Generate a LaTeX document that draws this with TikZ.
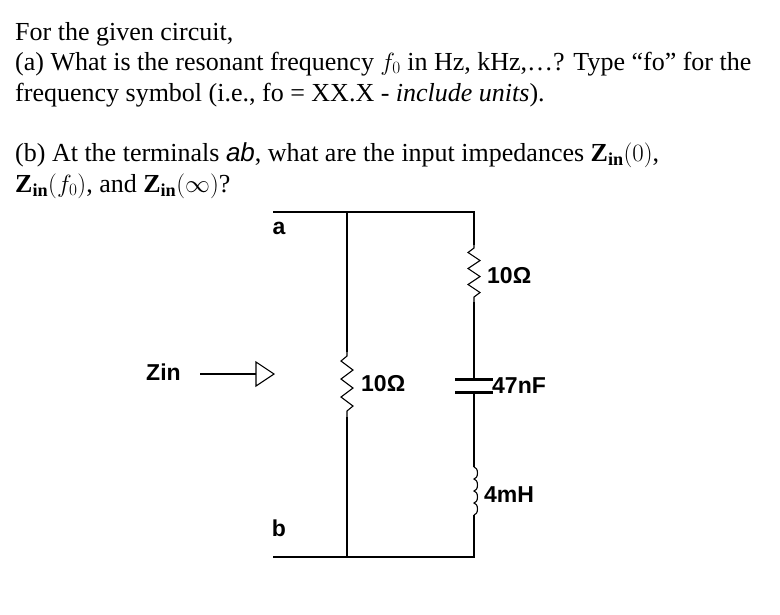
\documentclass[tikz,border=0pt]{standalone}
\usepackage{fontspec}
\setmainfont{Liberation Serif}
\newfontfamily\lab{Liberation Sans}
\begin{document}
\begin{tikzpicture}[x=1pt,y=-1pt,
  txt/.style={anchor=base west,inner sep=0,font=\fontsize{26}{29}\selectfont},
  lbl/.style={inner sep=0,font=\lab\bfseries\fontsize{23}{26}\selectfont},
  wire/.style={line width=1.1pt}]
\useasboundingbox (0,0) rectangle (780,614);
\node[txt] (l1) at (15,40) {For the given circuit,};
\node[txt] (l2) at (15,70) {(a) What is the resonant frequency $f_0$ in Hz, kHz,\dots? Type “fo” for the};
\node[txt] (l3) at (15,101) {frequency symbol (i.e., fo = XX.X - \textit{include units}).};
\node[txt] (l4) at (15,161) {(b) At the terminals {\lab\itshape ab}, what are the input impedances $\mathbf{Z}_{\mathbf{in}}(0)$,};
\node[txt] (l5) at (15,192) {$\mathbf{Z}_{\mathbf{in}}(f_0)$, and $\mathbf{Z}_{\mathbf{in}}(\infty)$?};
\coordinate (ta) at (273,212); \coordinate (tm) at (347,212); \coordinate (tr) at (474,212);
\coordinate (ba) at (273,557); \coordinate (bm) at (347,557); \coordinate (br) at (474,557);
\coordinate (r1a) at (347,352); \coordinate (r1b) at (347,417);
\coordinate (r2a) at (474,245); \coordinate (r2b) at (474,302);
\coordinate (c1) at (474,379); \coordinate (c2) at (474,392);
\coordinate (la) at (474,467); \coordinate (lb) at (474,515);
\draw[wire] (ta) -- (tr) -- (r2a);
\draw[wire] (ba) -- (br) -- (lb);
\draw[wire] (tm) -- (r1a);
\draw[wire] (r1b) -- (bm);
\draw[wire] (r2b) -- (c1);
\draw[wire] (c2) -- (la);
\draw[wire] (r1a) -- ++(0,4) -- ++(-6,5) -- ++(12,9) -- ++(-12,9) -- ++(12,9) -- ++(-12,9) -- ++(12,9) -- ++(-6,5) -- (r1b);
\draw[wire] (r2a) -- ++(0,3) -- ++(-6,4.5) -- ++(12,8) -- ++(-12,8) -- ++(12,8) -- ++(-12,8) -- ++(12,8) -- ++(-6,4.5) -- (r2b);
\draw[line width=3pt] (455,379) -- (493,379);
\draw[line width=3pt] (455,392) -- (493,392);
\draw[wire] (la) arc (-90:-270:-3.5 and 6) arc (-90:-270:-3.5 and 6) arc (-90:-270:-3.5 and 6) arc (-90:-270:-3.5 and 6);
\node[lbl] (a) at (279,228) {a};
\node[lbl] (b) at (279,528) {b};
\node[lbl,anchor=west] (zin) at (146,372) {Zin};
\node[lbl,anchor=west] (R1) at (361,384) {10Ω};
\node[lbl,anchor=west] (R2) at (487,276) {10Ω};
\node[lbl,anchor=west] (C) at (492,386) {47nF};
\node[lbl,anchor=west] (L) at (484,495) {4mH};
\coordinate (ar1) at (200,374); \coordinate (ar2) at (256,374);
\draw[wire] (ar1) -- (ar2);
\draw[wire] (256,362) -- (274,374) -- (256,386) -- cycle;
\end{tikzpicture}
\end{document}
